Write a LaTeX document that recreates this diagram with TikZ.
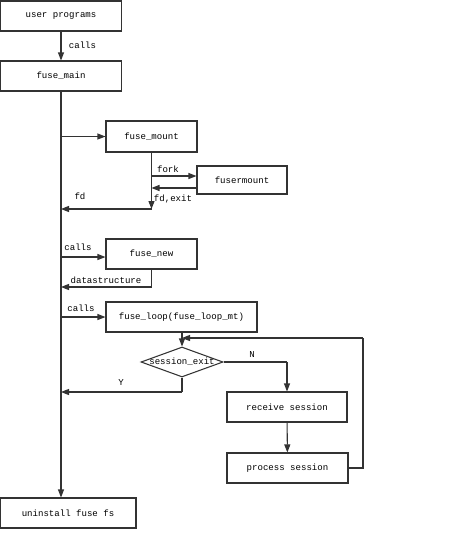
\documentclass[tikz,border=0pt]{standalone}
\usepackage{fontspec}
\setmonofont{Liberation Mono}
\usetikzlibrary{arrows.meta,shapes.geometric}
\begin{document}
\begin{tikzpicture}[x=0.75pt,y=-0.75pt,
  font=\ttfamily\fontsize{6.8}{8}\selectfont,
  ln/.style={line width=0.8pt,draw=black!80},
  box/.style={draw=black!80,line width=0.8pt,rectangle,inner sep=0pt},
  lbl/.style={inner sep=0pt,anchor=center},
  arr/.style={ln,-{Triangle[length=6pt,width=4.5pt]}}]
\useasboundingbox (0,0) rectangle (474,540);
% boxes
\node[box,minimum width=121*0.75pt,minimum height=30*0.75pt] (up) at (61,16) {user programs};
\node[box,minimum width=121*0.75pt,minimum height=30*0.75pt] (fm) at (61,76) {fuse\_main};
\node[box,minimum width=91*0.75pt,minimum height=31*0.75pt] (mount) at (151.5,136.5) {fuse\_mount};
\node[box,minimum width=90*0.75pt,minimum height=28*0.75pt] (fmount) at (242,180) {fusermount};
\node[box,minimum width=91*0.75pt,minimum height=30*0.75pt] (new) at (151.5,254) {fuse\_new};
\node[box,minimum width=151*0.75pt,minimum height=30*0.75pt] (loop) at (181.5,317) {fuse\_loop(fuse\_loop\_mt)};
\node[draw=black!80,line width=0.8pt,shape=diamond,minimum width=82*0.75pt,minimum height=30*0.75pt,inner sep=0pt,aspect=2.73] (dia) at (182,362) {};
\node[lbl] (diat) at (182,361.5) {session\_exit};
\node[box,minimum width=120*0.75pt,minimum height=30*0.75pt] (recv) at (287,407) {receive session};
\node[box,minimum width=121*0.75pt,minimum height=30*0.75pt] (proc) at (287.5,468) {process session};
\node[box,minimum width=136*0.75pt,minimum height=30*0.75pt] (un) at (68,513) {uninstall fuse fs};
% coordinates
\coordinate (c1) at (151.5,209);
\coordinate (c2) at (151.5,287);
\coordinate (c3) at (287,362);
\coordinate (c4) at (182,392);
\coordinate (c5) at (363,468);
\coordinate (c6) at (363,338);
\coordinate (c7) at (182,338);
% connectors
\draw[arr] (up) -- (fm);
\draw[arr] (fm.south) -- (fm.south |- un.north);
\draw[arr] (fm.south |- mount.west) -- (mount.west);
\draw[arr] (mount.south) -- (c1);
\draw[arr] (c1) -- (c1 -| fm.south);
\draw[arr] (mount.south |- 0,176) -- (fmount.west |- 0,176);
\draw[arr] (fmount.west |- 0,188) -- (mount.south |- 0,188);
\draw[arr] (fm.south |- 0,257) -- (new.west |- 0,257);
\draw[ln] (new.south) -- (c2);
\draw[arr] (c2) -- (c2 -| fm.south);
\draw[arr] (fm.south |- loop.west) -- (loop.west);
\draw[arr] (loop.south -| dia.north) -- (dia.north);
\draw[ln] (dia.east) -- (c3);
\draw[arr] (c3) -- (recv.north);
\draw[ln] (dia.south) -- (c4);
\draw[arr] (c4) -- (c4 -| fm.south);
\draw[arr] (recv) -- (proc);
\draw[ln] (proc.east) -- (c5) -- (c6);
\draw[arr] (c6) -- (c7);
% labels
\node[lbl] (l1) at (82.5,45) {calls};
\node[lbl] (l2) at (168,169.5) {fork};
\node[lbl] (l3) at (173,199.5) {fd,exit};
\node[lbl] (l4) at (80,196) {fd};
\node[lbl] (l5) at (78,247) {calls};
\node[lbl] (l6) at (106,280) {datastructure};
\node[lbl] (l7) at (81,308) {calls};
\node[lbl] (l8) at (252,355) {N};
\node[lbl] (l9) at (121,383) {Y};
\end{tikzpicture}
\end{document}
